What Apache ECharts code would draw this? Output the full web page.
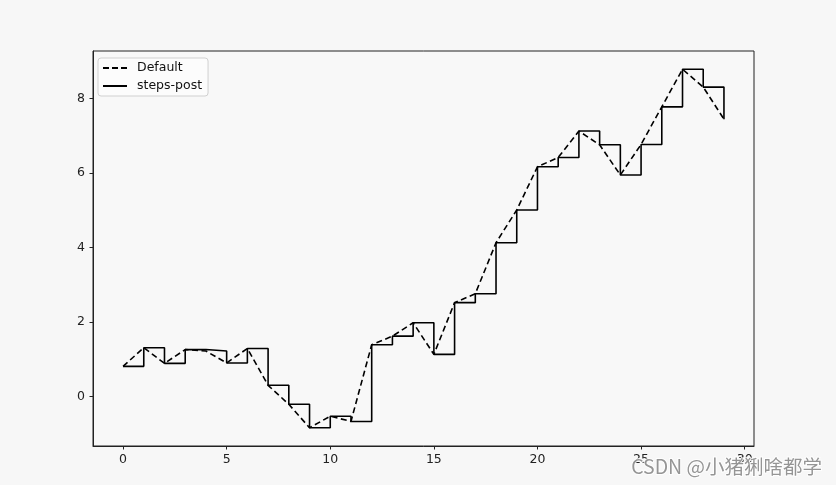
<!DOCTYPE html>
<html>
<head>
<meta charset="utf-8">
<script src="https://cdn.jsdelivr.net/npm/echarts@6/dist/echarts.min.js"></script>
<style>
html,body{margin:0;padding:0;background:#f7f7f7;}
#main{width:836px;height:485px;}
</style>
</head>
<body>
<div id="main"></div>
<script>
var xValues = [0,1,2,3,4,5,6,7,8,9,10,11,12,13,14,15,16,17,18,19,20,21,22,23,24,25,26,27,28,29];
var yValues = [0.81,1.31,0.89,1.26,1.22,0.90,1.29,0.30,-0.21,-0.84,-0.53,-0.67,1.39,1.62,1.98,1.13,2.52,2.76,4.13,5.01,6.17,6.42,7.13,6.76,5.95,6.77,7.78,8.79,8.31,7.45];
var xTicks = [0,5,10,15,20,25,30];
var yTicks = [0,2,4,6,8];
var seriesNames = ['Default','steps-post'];
var watermark = 'CSDN @小猪猁啥都学';

var pts = xValues.map(function(x,i){return [x,yValues[i]];});
var font = 'DejaVu Sans';
var chart = echarts.init(document.getElementById('main'));
chart.setOption({
  backgroundColor:'#f7f7f7',
  animation:false,
  grid:{left:93,right:82,top:51,bottom:39,show:true,borderColor:'#222',borderWidth:1,backgroundColor:'#f8f8f8'},
  legend:{
    orient:'vertical',left:98,top:58,
    data:[
      {name:seriesNames[0],icon:'path://M0,0 L6,0 L6,2 L0,2 Z M9,0 L15,0 L15,2 L9,2 Z M18,0 L24,0 L24,2 L18,2 Z'},
      {name:seriesNames[1],icon:'rect'}
    ],
    itemWidth:24,itemHeight:2,itemGap:4,
    padding:[3,6,3,5],
    backgroundColor:'rgba(255,255,255,0.6)',borderColor:'#d0d0d0',borderWidth:1,borderRadius:3,
    textStyle:{fontFamily:font,fontSize:12.5,color:'#111',padding:[0,0,0,5],lineHeight:14},
    itemStyle:{color:'#000'}
  },
  xAxis:{
    type:'value',min:-1.45,max:30.45,
    axisLine:{show:true,onZero:false,lineStyle:{color:'#222'}},
    splitLine:{show:false},
    axisTick:{show:true,length:3.5,customValues:xTicks,lineStyle:{color:'#222'}},
    axisLabel:{customValues:xTicks,fontFamily:font,fontSize:12.5,color:'#222',margin:7}
  },
  yAxis:{
    type:'value',min:-1.33,max:9.28,
    axisLine:{show:true,onZero:false,lineStyle:{color:'#222'}},
    splitLine:{show:false},
    axisTick:{show:true,length:3.5,customValues:yTicks,lineStyle:{color:'#222'}},
    axisLabel:{customValues:yTicks,fontFamily:font,fontSize:12.5,color:'#222',margin:8}
  },
  series:[
    {name:seriesNames[0],type:'line',data:pts,symbol:'none',
     lineStyle:{color:'#000',width:1.6,type:[6,3.5]},itemStyle:{color:'#000'}},
    {name:seriesNames[1],type:'line',data:pts,symbol:'none',step:'end',
     lineStyle:{color:'#000',width:1.6},itemStyle:{color:'#000'}}
  ],
  graphic:[
    {type:'text',right:13,bottom:8,z:100,
     style:{text:watermark,font:'19.5px "Noto Sans CJK SC"',fill:'rgba(130,130,130,0.85)',
            stroke:'rgba(255,255,255,0.85)',lineWidth:2}}
  ]
});
</script>
</body>
</html>
